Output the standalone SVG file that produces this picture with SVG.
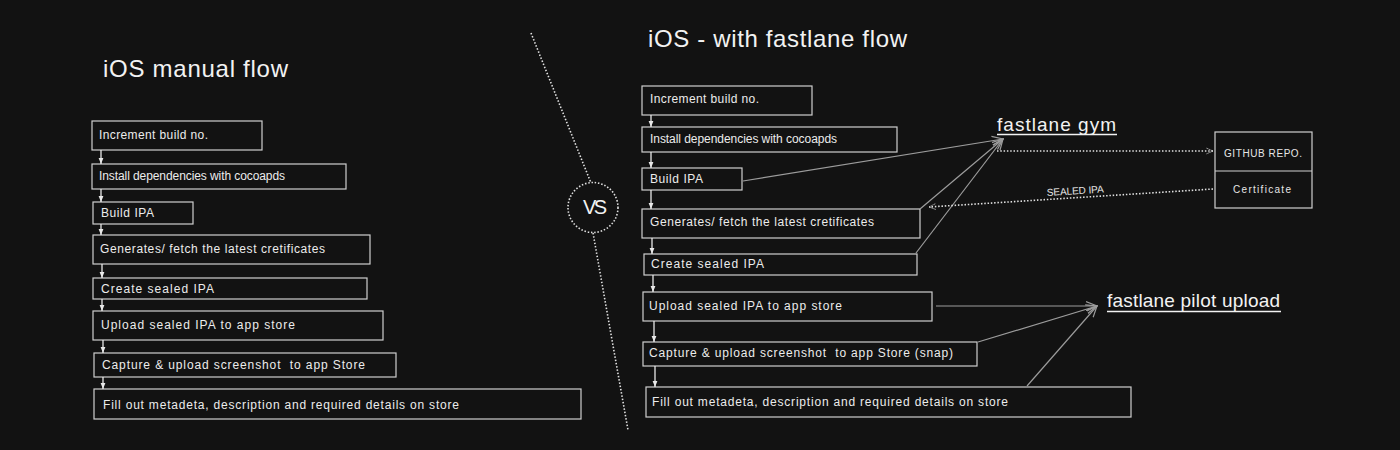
<svg xmlns="http://www.w3.org/2000/svg" width="1400" height="450" viewBox="0 0 1400 450">
<defs>
<style>
.bg{fill:#121212}
.box{fill:#121212;stroke:#cfcfcf;stroke-width:1.2}
.t{font-family:"Liberation Sans",Arial,sans-serif;font-size:12px;fill:#ececec}
.title{font-family:"Liberation Sans",Arial,sans-serif;font-size:24px;fill:#f2f2f2}
.lbl{font-family:"Liberation Sans",Arial,sans-serif;font-size:19px;fill:#f2f2f2}
.small{font-family:"Liberation Sans",Arial,sans-serif;font-size:10px;fill:#e6e6e6}
.down{stroke:#e8e8e8;stroke-width:1.3;fill:none;marker-end:url(#tri)}
.grey{stroke:#9c9c9c;stroke-width:1.2;fill:none}
.dot{stroke:#e0e0e0;stroke-width:1.6;fill:none;stroke-dasharray:1.5 1.8}
</style>
<marker id="tri" viewBox="0 0 10 10" refX="10" refY="5" markerWidth="6" markerHeight="6" orient="auto" markerUnits="userSpaceOnUse">
<path d="M0,1 L10,5 L0,9 Z" fill="#e8e8e8"/>
</marker>
<marker id="chev" viewBox="0 0 12 12" refX="11" refY="6" markerWidth="12" markerHeight="12" orient="auto" markerUnits="userSpaceOnUse">
<path d="M0,1.5 L11,6 L0,10.5" fill="none" stroke="#9c9c9c" stroke-width="1.2"/>
</marker>
<marker id="dchev" viewBox="0 0 10 10" refX="9" refY="5" markerWidth="8" markerHeight="8" orient="auto" markerUnits="userSpaceOnUse">
<path d="M1,1.5 L9,5 L1,8.5" fill="none" stroke="#e0e0e0" stroke-width="1.2" stroke-dasharray="1.5 1.2"/>
</marker>
</defs>
<rect class="bg" x="0" y="0" width="1400" height="450"/>

<g id="titles">
<text class="title" x="103" y="77" textLength="185">iOS manual flow</text>
<text class="title" x="648" y="47" textLength="259">iOS - with fastlane flow</text>
</g>

<g id="divider">
<line class="dot" x1="531" y1="33" x2="591" y2="183"/>
<line class="dot" x1="593" y1="233" x2="628" y2="430"/>
</g>
<g id="vs">
<circle cx="593" cy="207.5" r="25" fill="none" stroke="#e0e0e0" stroke-width="1.6" stroke-dasharray="1.5 1.8"/>
<text x="595" y="214" text-anchor="middle" font-family="Liberation Sans,Arial,sans-serif" font-size="20" fill="#f2f2f2" textLength="24">VS</text>
</g>

<g id="left-flow">
<g id="l1"><rect class="box" x="92" y="121" width="170" height="29"/><text class="t" x="99" y="139" textLength="109">Increment build no.</text></g>
<g id="l2"><rect class="box" x="92" y="164" width="254" height="25"/><text class="t" x="99" y="180" textLength="186">Install dependencies with cocoapds</text></g>
<g id="l3"><rect class="box" x="93" y="202" width="100" height="22"/><text class="t" x="101" y="217" textLength="53">Build IPA</text></g>
<g id="l4"><rect class="box" x="93" y="235" width="277" height="29"/><text class="t" x="100" y="253" textLength="225">Generates/ fetch the latest cretificates</text></g>
<g id="l5"><rect class="box" x="93" y="278" width="274" height="21"/><text class="t" x="101" y="293" textLength="113">Create sealed IPA</text></g>
<g id="l6"><rect class="box" x="93" y="311" width="290" height="29"/><text class="t" x="101" y="329" textLength="194">Upload sealed IPA to app store</text></g>
<g id="l7"><rect class="box" x="94" y="353" width="302" height="24"/><text class="t" x="102" y="369" textLength="263" xml:space="preserve">Capture &amp; upload screenshot  to app Store</text></g>
<g id="l8"><rect class="box" x="94" y="389" width="487" height="30"/><text class="t" x="103" y="409" textLength="356">Fill out metadeta, description and required details on store</text></g>
</g>

<g id="right-flow">
<g id="r1"><rect class="box" x="642" y="86" width="170" height="29"/><text class="t" x="650" y="103" textLength="109">Increment build no.</text></g>
<g id="r2"><rect class="box" x="642" y="127" width="255" height="25"/><text class="t" x="650" y="143" textLength="187">Install dependencies with cocoapds</text></g>
<g id="r3"><rect class="box" x="642" y="168" width="100" height="22"/><text class="t" x="650" y="183" textLength="53">Build IPA</text></g>
<g id="r4"><rect class="box" x="642" y="209" width="278" height="29"/><text class="t" x="650" y="226" textLength="224">Generates/ fetch the latest cretificates</text></g>
<g id="r5"><rect class="box" x="644" y="254" width="273" height="21"/><text class="t" x="651" y="268" textLength="113">Create sealed IPA</text></g>
<g id="r6"><rect class="box" x="643" y="292" width="289" height="29"/><text class="t" x="649" y="310" textLength="193">Upload sealed IPA to app store</text></g>
<g id="r7"><rect class="box" x="643" y="342" width="334" height="24"/><text class="t" x="649" y="357" textLength="304" xml:space="preserve">Capture &amp; upload screenshot  to app Store (snap)</text></g>
<g id="r8"><rect class="box" x="646" y="387" width="485" height="30"/><text class="t" x="652" y="406" textLength="356">Fill out metadeta, description and required details on store</text></g>
</g>

<g id="fastlane-gym">
<text class="lbl" x="997" y="131" textLength="119">fastlane gym</text>
<line x1="997" y1="134.5" x2="1117" y2="134.5" stroke="#f2f2f2" stroke-width="1.5"/>
</g>
<g id="fastlane-pilot">
<text class="lbl" x="1107" y="307" textLength="173">fastlane pilot upload</text>
<line x1="1107" y1="311.5" x2="1281" y2="311.5" stroke="#f2f2f2" stroke-width="1.5"/>
</g>
<g id="repo">
<rect class="box" x="1215" y="132" width="97" height="76"/>
<line x1="1215" y1="171" x2="1312" y2="171" stroke="#cfcfcf" stroke-width="1.2"/>
<text class="small" x="1263" y="157" text-anchor="middle" textLength="78">GITHUB REPO.</text>
<text class="small" x="1262" y="193" text-anchor="middle" font-size="11" textLength="58">Certificate</text>
</g>

<g id="connectors">
<line class="down" x1="101" y1="150" x2="101" y2="164"/>
<line class="down" x1="101" y1="189" x2="101" y2="202"/>
<line class="down" x1="101" y1="224" x2="101" y2="235"/>
<line class="down" x1="102" y1="264" x2="102" y2="278"/>
<line class="down" x1="102" y1="299" x2="102" y2="311"/>
<line class="down" x1="103" y1="340" x2="103" y2="353"/>
<line class="down" x1="103" y1="377" x2="103" y2="389"/>

<line class="down" x1="651" y1="115" x2="651" y2="127"/>
<line class="down" x1="651" y1="152" x2="651" y2="168"/>
<line class="down" x1="651" y1="190" x2="651" y2="209"/>
<line class="down" x1="652" y1="238" x2="652" y2="254"/>
<line class="down" x1="653" y1="275" x2="653" y2="292"/>
<line class="down" x1="654" y1="321" x2="654" y2="342"/>
<line class="down" x1="655" y1="366" x2="655" y2="387"/>

<line class="grey" x1="743" y1="181" x2="1003" y2="139" marker-end="url(#chev)"/>
<line class="grey" x1="920" y1="209" x2="1003" y2="139" marker-end="url(#chev)"/>
<line class="grey" x1="916" y1="253" x2="1003" y2="139" marker-end="url(#chev)"/>

<line class="grey" x1="936" y1="306" x2="1097" y2="306" marker-end="url(#chev)"/>
<line class="grey" x1="978" y1="342" x2="1097" y2="306" marker-end="url(#chev)"/>
<line class="grey" x1="1027" y1="386" x2="1097" y2="306" marker-end="url(#chev)"/>

<line class="dot" x1="997" y1="151" x2="1213" y2="151" marker-end="url(#dchev)"/>
<line class="dot" x1="1213" y1="189" x2="929" y2="207" marker-end="url(#dchev)"/>
<text class="small" font-size="9" x="1047" y="196" transform="rotate(-3.6 1047 196)" textLength="57">SEALED IPA</text>
</g>
</svg>
